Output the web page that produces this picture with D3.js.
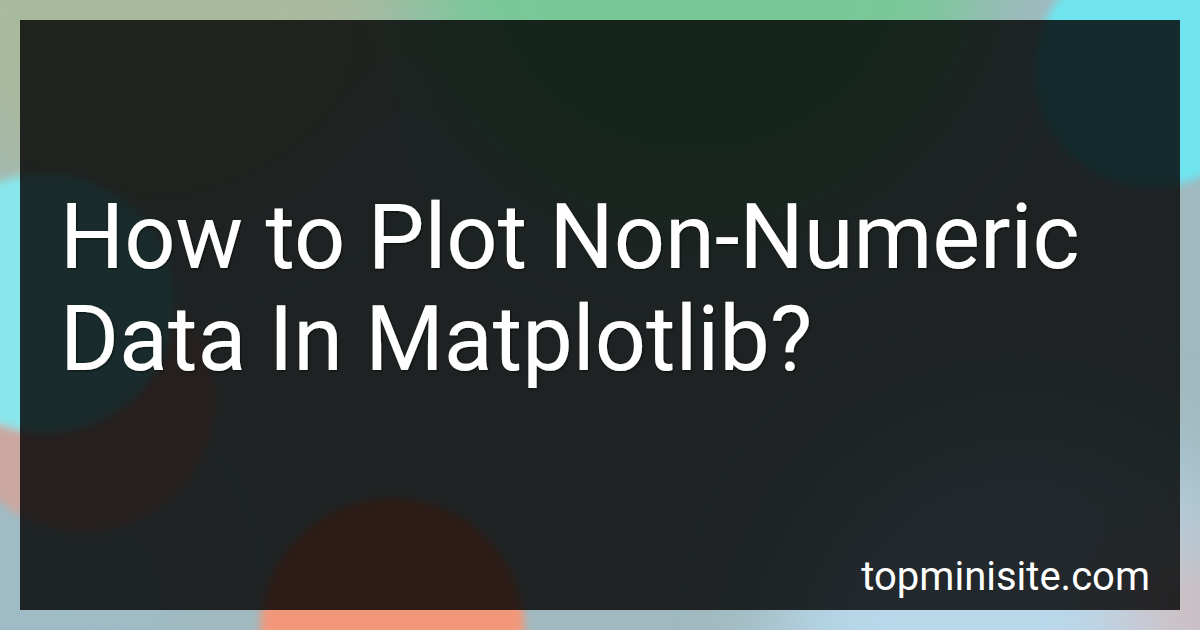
<!DOCTYPE html>
<html>
<head>
<meta charset="utf-8">
<script src="https://cdn.jsdelivr.net/npm/d3@7"></script>
<style>
  html, body { margin: 0; padding: 0; background: #a0bac2; }
  svg { display: block; }
</style>
</head>
<body>
<div id="card"></div>
<script>
/* global d3 */

const width = 1200,
  height = 630

// title text
const titleLines = ['How to Plot Non-Numeric', 'Data In Matplotlib?']
const siteName = 'topminisite.com'

// wide glows (centre and radius as fractions of the card)
const glowX = [0.12, 0.58, 0.85, 0.99, 0.02]
const glowY = [-0.08, -0.10, 1.05, 0.97, 0.98]
const glowR = [0.22, 0.24, 0.2, 0.05, 0.12]
const glowColor = ['#a9b99c', '#78c896', '#b8d8ea', '#d8b4b0', '#9fbcc6']

// sharper bokeh circles, drawn in this order
const bokehX = [0.07, 0.0375, 0.96, 0.327]
const bokehY = [0.635, 0.481, 0.111, 1.0]
const bokehR = [0.11, 0.108, 0.098, 0.11]
const bokehColor = ['#caa7a0', '#88e6ec', '#70e4ee', '#f3977a']

let x = d3.scaleLinear().domain([0, 1]).range([0, width])
let y = d3.scaleLinear().domain([0, 1]).range([0, height])

let svg = d3.select('#card')
  .append('svg')
  .attr('width', width)
  .attr('height', height)

let defs = svg.append('defs')
let addBlur = (id, dev) => {
  defs.append('filter')
    .attr('id', id)
    .attr('x', '-50%').attr('y', '-50%')
    .attr('width', '200%').attr('height', '200%')
    .append('feGaussianBlur')
    .attr('stdDeviation', dev)
}
addBlur('wide', 45)
addBlur('soft', 4)

let shadow = defs.append('filter')
  .attr('id', 'shadow')
  .attr('x', '-5%').attr('y', '-5%')
  .attr('width', '110%').attr('height', '120%')
shadow.append('feDropShadow')
  .attr('dx', 1).attr('dy', 1)
  .attr('stdDeviation', 1)
  .attr('flood-color', '#000')
  .attr('flood-opacity', 0.6)

// base background
svg.append('rect')
  .attr('width', width)
  .attr('height', height)
  .attr('fill', '#a0b9bf')

let drawBlobs = (xs, ys, rs, cs, filter) => {
  svg.append('g')
    .attr('filter', `url(#${filter})`)
    .selectAll('circle')
    .data(xs)
    .enter()
    .append('circle')
    .attr('cx', d => x(d))
    .attr('cy', (d, i) => y(ys[i]))
    .attr('r', (d, i) => x(rs[i]))
    .attr('fill', (d, i) => cs[i])
}
drawBlobs(glowX, glowY, glowR, glowColor, 'wide')
drawBlobs(bokehX, bokehY, bokehR, bokehColor, 'soft')

// dark panel
svg.append('rect')
  .attr('x', 20)
  .attr('y', 20)
  .attr('width', width - 40)
  .attr('height', height - 40)
  .attr('fill', '#000')
  .attr('fill-opacity', 0.815)

// title
svg.append('g')
  .selectAll('text')
  .data(titleLines)
  .enter()
  .append('text')
  .attr('x', 60)
  .attr('y', (d, i) => 268 + i * 102)
  .attr('fill', '#fff')
  .attr('filter', 'url(#shadow)')
  .style('font-family', 'Roboto, sans-serif')
  .style('font-size', '90px')
  .text(d => d)

svg.append('text')
  .attr('x', 1150)
  .attr('y', 590)
  .attr('text-anchor', 'end')
  .attr('fill', '#fff')
  .style('font-family', 'Roboto, sans-serif')
  .style('font-size', '40px')
  .text(siteName)
</script>
</body>
</html>
